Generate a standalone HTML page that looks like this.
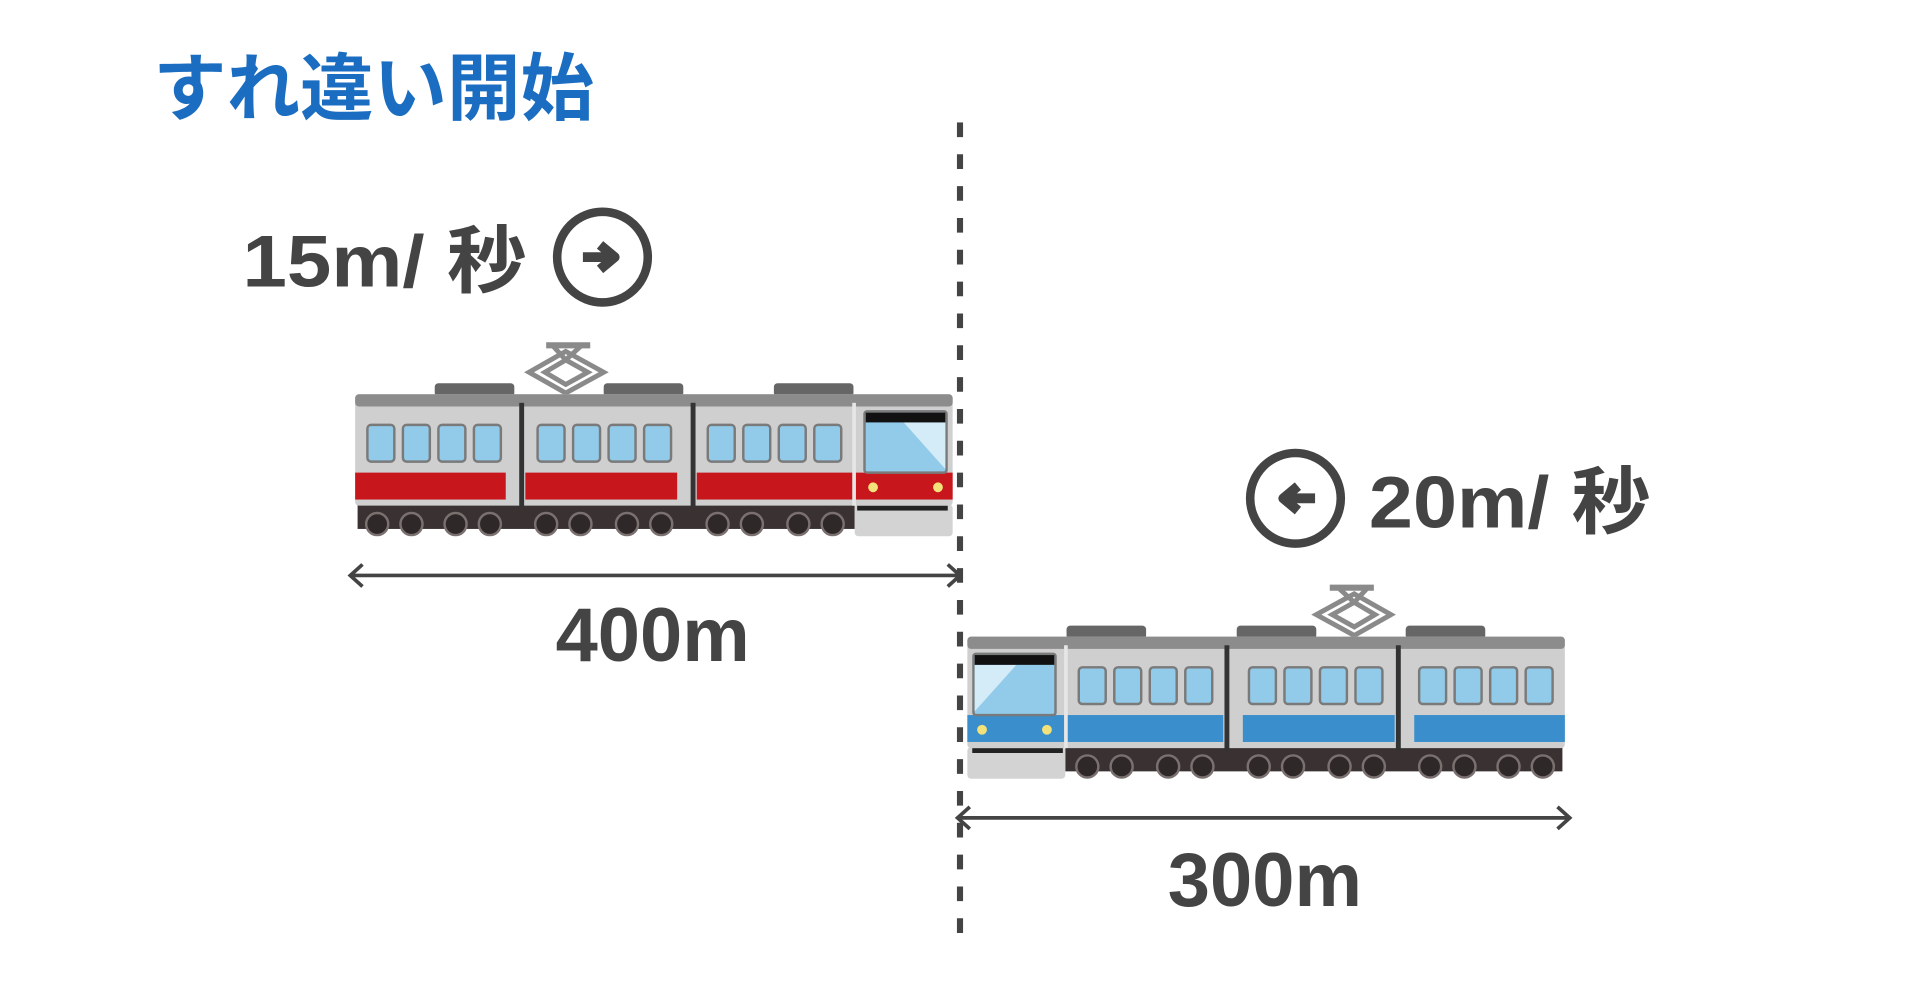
<!DOCTYPE html>
<html><head><meta charset="utf-8"><style>
html,body{margin:0;padding:0;background:#fff;width:1920px;height:1004px;overflow:hidden}
svg{display:block}
text{font-family:"Liberation Sans","Noto Sans CJK JP",sans-serif;}
</style></head><body>
<svg width="1920" height="1004" viewBox="0 0 1568 820" xmlns="http://www.w3.org/2000/svg">
<defs>
<g id="train">
  <g stroke="#8a8a8a" stroke-width="4" fill="none">
    <line x1="446" y1="282" x2="482" y2="282" stroke-width="5"/>
    <path d="M462 287 L432 304 L462 321 L493 304 Z"/>
    <path d="M462 294 L445 304 L462 314 L480 304 Z"/>
    <line x1="452" y1="283" x2="462" y2="294"/><line x1="474" y1="283" x2="462" y2="294"/>
  </g>
  <rect x="355" y="313" width="65" height="11" rx="3" fill="#666"/>
  <rect x="493" y="313" width="65" height="11" rx="3" fill="#666"/>
  <rect x="632" y="313" width="65" height="11" rx="3" fill="#666"/>
  <rect x="292" y="410" width="406" height="22" fill="#3a3232"/>
  <g fill="#2e2828" stroke="#7a7070" stroke-width="2">
    <circle cx="308" cy="428" r="9"/><circle cx="336" cy="428" r="9"/><circle cx="372" cy="428" r="9"/><circle cx="400" cy="428" r="9"/>
    <circle cx="446" cy="428" r="9"/><circle cx="474" cy="428" r="9"/><circle cx="512" cy="428" r="9"/><circle cx="540" cy="428" r="9"/>
    <circle cx="586" cy="428" r="9"/><circle cx="614" cy="428" r="9"/><circle cx="652" cy="428" r="9"/><circle cx="680" cy="428" r="9"/>
  </g>
  <rect x="698" y="412" width="80" height="26" rx="3" fill="#d3d3d3"/>
  <rect x="700" y="413" width="74" height="4" fill="#222"/>
  <rect x="290" y="322" width="488" height="91" rx="3" fill="#cfcfcf"/>
  <rect x="290" y="322" width="488" height="10" rx="3" fill="#8c8c8c"/>
  <rect x="290" y="386" width="123" height="22" fill="currentColor"/>
  <rect x="429" y="386" width="124" height="22" fill="currentColor"/>
  <rect x="569" y="386" width="209" height="22" fill="currentColor"/>
  <rect x="424" y="329" width="4" height="86" fill="#333"/>
  <rect x="564" y="329" width="4" height="86" fill="#333"/>
  <rect x="696" y="329" width="3" height="84" fill="#e6e6e6"/>
  <g fill="#92cbea" stroke="#7a7a7a" stroke-width="2">
    <rect x="300" y="347" width="22" height="30" rx="3"/><rect x="329" y="347" width="22" height="30" rx="3"/><rect x="358" y="347" width="22" height="30" rx="3"/><rect x="387" y="347" width="22" height="30" rx="3"/>
    <rect x="439" y="347" width="22" height="30" rx="3"/><rect x="468" y="347" width="22" height="30" rx="3"/><rect x="497" y="347" width="22" height="30" rx="3"/><rect x="526" y="347" width="22" height="30" rx="3"/>
    <rect x="578" y="347" width="22" height="30" rx="3"/><rect x="607" y="347" width="22" height="30" rx="3"/><rect x="636" y="347" width="22" height="30" rx="3"/><rect x="665" y="347" width="22" height="30" rx="3"/>
    <rect x="706" y="336" width="67" height="50" rx="2"/>
  </g>
  <path d="M738 345 L772 345 L772 383 Z" fill="#d4ecf8"/>
  <rect x="707" y="337" width="65" height="8" fill="#111"/>
  <circle cx="713" cy="398" r="4" fill="#f3e27a"/>
  <circle cx="766" cy="398" r="4" fill="#f3e27a"/>
</g>
</defs>

<text x="125" y="93" font-size="60" font-weight="bold" fill="#1b6dc1">すれ違い開始</text>

<line x1="784" y1="100" x2="784" y2="772" stroke="#444" stroke-width="5" stroke-dasharray="12 14"/>

<use href="#train" color="#c8161d"/>
<use href="#train" color="#3a8ecb" transform="translate(1568,198) scale(-1,1)"/>

<text x="198" y="234" font-size="60" font-weight="bold" fill="#444" textLength="232" lengthAdjust="spacingAndGlyphs">15m/ 秒</text>
<circle cx="492" cy="210" r="37" fill="none" stroke="#444" stroke-width="7"/>
<path d="M476 210 H500 M490 200 L502 210 L490 220" fill="none" stroke="#444" stroke-width="8" stroke-linejoin="round"/>

<circle cx="1058" cy="407" r="37" fill="none" stroke="#444" stroke-width="7"/>
<path d="M1074 407 H1050 M1060 397 L1048 407 L1060 417" fill="none" stroke="#444" stroke-width="8" stroke-linejoin="round"/>
<text x="1118" y="431" font-size="60" font-weight="bold" fill="#444" textLength="230" lengthAdjust="spacingAndGlyphs">20m/ 秒</text>

<line x1="286" y1="470" x2="784" y2="470" stroke="#444" stroke-width="3"/>
<path d="M296 461 L286 470 L296 479 M774 461 L784 470 L774 479" fill="none" stroke="#444" stroke-width="3"/>
<text x="533" y="540" font-size="62" font-weight="bold" fill="#444" text-anchor="middle">400m</text>

<line x1="782" y1="668" x2="1282" y2="668" stroke="#444" stroke-width="3"/>
<path d="M792 659 L782 668 L792 677 M1272 659 L1282 668 L1272 677" fill="none" stroke="#444" stroke-width="3"/>
<text x="1033" y="740" font-size="62" font-weight="bold" fill="#444" text-anchor="middle">300m</text>
</svg>
</body></html>
